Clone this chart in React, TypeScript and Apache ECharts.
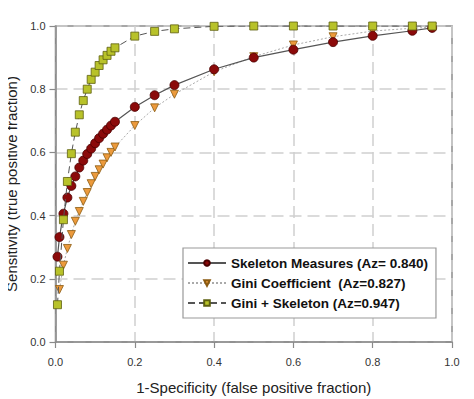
import React, { useEffect, useRef } from "react";
import * as echarts from "echarts";

const fpr = [0.005, 0.01, 0.02, 0.03, 0.04, 0.05, 0.06, 0.07, 0.08, 0.09, 0.1, 0.11, 0.12, 0.13, 0.14, 0.15, 0.2, 0.25, 0.3, 0.4, 0.5, 0.6, 0.7, 0.8, 0.9, 0.95];
const skeleton = [0.27, 0.332, 0.406, 0.457, 0.494, 0.524, 0.552, 0.574, 0.595, 0.612, 0.629, 0.645, 0.659, 0.672, 0.685, 0.697, 0.744, 0.781, 0.813, 0.863, 0.9, 0.925, 0.949, 0.969, 0.985, 0.994];
const giniFpr = [0.01, 0.02, 0.03, 0.04, 0.05, 0.06, 0.07, 0.08, 0.09, 0.1, 0.11, 0.12, 0.13, 0.14, 0.15, 0.2, 0.25, 0.3, 0.4, 0.5, 0.6, 0.7, 0.8, 0.9, 0.95];
const gini = [0.166, 0.243, 0.296, 0.34, 0.382, 0.413, 0.445, 0.473, 0.501, 0.524, 0.545, 0.563, 0.583, 0.6, 0.617, 0.685, 0.741, 0.784, 0.855, 0.903, 0.94, 0.966, 0.984, 0.993, 0.996];
const combined = [0.118, 0.224, 0.387, 0.508, 0.596, 0.664, 0.719, 0.764, 0.8, 0.831, 0.854, 0.875, 0.893, 0.907, 0.92, 0.931, 0.968, 0.983, 0.991, 0.999, 1.0, 1.0, 1.0, 1.0, 1.0, 1.0];
const seriesNames = ["Skeleton Measures (Az= 0.840)", "Gini Coefficient  (Az=0.827)", "Gini + Skeleton (Az=0.947)"];
const xTitle = "1-Specificity (false positive fraction)";
const yTitle = "Sensitivity (true positive fraction)";

const pair = (xs: number[], ys: number[]) => xs.map((x, i) => [x, ys[i]]);

export default function App() {
  const ref = useRef<HTMLDivElement>(null);
  useEffect(() => {
    const chart = echarts.init(ref.current!, undefined, { renderer: "svg" });
    const font = "'Liberation Sans', Arial, sans-serif";
    const gridLine = { show: true, lineStyle: { color: "#d0d0d0", type: [12, 6] as any, width: 1.5 } };
    const axisCommon = {
      min: 0,
      max: 1,
      interval: 0.2,
      axisLine: { show: true, lineStyle: { color: "#8a8a8a", width: 1.5 } },
      axisTick: { show: true, length: 6, lineStyle: { color: "#8a8a8a", width: 1.2 } },
      axisLabel: { color: "#333", fontSize: 11, fontFamily: font, formatter: (v: number) => v.toFixed(1) },
      splitLine: gridLine,
    };
    chart.setOption({
      animation: false,
      textStyle: { fontFamily: font },
      grid: {
        left: 55.5, top: 26, width: 396.5, height: 316,
        containLabel: false, outerBoundsMode: "none",
        show: true, borderColor: "#8a8a8a", borderWidth: 1.5, backgroundColor: "transparent",
      },
      xAxis: {
        type: "value",
        ...axisCommon,
        axisLabel: { ...axisCommon.axisLabel, margin: 14 },
        name: xTitle,
        nameLocation: "middle",
        nameGap: 38,
        nameTextStyle: { color: "#222", fontSize: 15, fontFamily: font },
      },
      yAxis: {
        type: "value",
        ...axisCommon,
        axisLabel: { ...axisCommon.axisLabel, margin: 10 },
        name: yTitle,
        nameLocation: "middle",
        nameGap: 33,
        nameTextStyle: { color: "#222", fontSize: 15, fontFamily: font },
      },
      legend: {
        orient: "vertical",
        left: 183,
        top: 248,
        padding: [7, 8, 7, 4],
        itemGap: 4,
        itemWidth: 38,
        itemHeight: 7,
        borderColor: "#999",
        borderWidth: 1.2,
        backgroundColor: "#fff",
        textStyle: { fontSize: 13.5, fontWeight: "bold", color: "#111", fontFamily: font, lineHeight: 16 },
        data: seriesNames,
      },
      series: [
        {
          name: seriesNames[0],
          type: "line",
          data: pair(fpr, skeleton),
          symbol: "circle",
          symbolSize: 9,
          itemStyle: { color: "#8b0a0a", borderColor: "#4a0000", borderWidth: 0.8 },
          lineStyle: { color: "#555", width: 1.2, type: "solid" },
          z: 3,
        },
        {
          name: seriesNames[1],
          type: "line",
          data: pair(giniFpr, gini),
          symbol: "triangle",
          symbolRotate: 180,
          symbolSize: 8,
          itemStyle: { color: "#ec9a3c", borderColor: "#8a5a10", borderWidth: 0.8 },
          lineStyle: { color: "#aaa", width: 1, type: [2, 2] },
          z: 2,
        },
        {
          name: seriesNames[2],
          type: "line",
          data: pair(fpr, combined),
          symbol: "rect",
          symbolSize: 8,
          itemStyle: { color: "#b8c22a", borderColor: "#5e6010", borderWidth: 0.8 },
          lineStyle: { color: "#555", width: 1, type: [7, 4] },
          z: 4,
        },
      ],
    });
    return () => chart.dispose();
  }, []);
  return <div ref={ref} style={{ width: 474, height: 399, marginLeft: -8, marginTop: -8 }} />;
}
